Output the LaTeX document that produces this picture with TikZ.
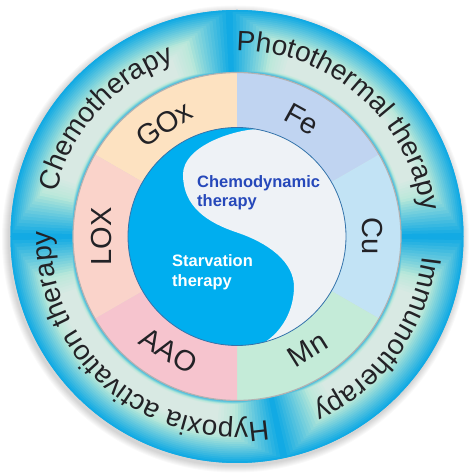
\documentclass[tikz,border=0pt]{standalone}
\usepackage{fontspec}
\setmainfont{Liberation Sans}
\usepackage{tikz}
\usetikzlibrary{decorations.text}
\definecolor{myringblue}{RGB}{18,170,228}
\definecolor{myringmint}{RGB}{180,231,216}
\definecolor{myringcore}{RGB}{230,234,232}
\definecolor{mygox}{RGB}{253,226,193}
\definecolor{myfe}{RGB}{192,212,241}
\definecolor{mycu}{RGB}{194,227,245}
\definecolor{mymn}{RGB}{196,235,216}
\definecolor{myaao}{RGB}{246,196,206}
\definecolor{mylox}{RGB}{250,211,202}
\definecolor{myyin}{RGB}{0,174,239}
\definecolor{myyang}{RGB}{238,242,246}
\definecolor{myedge}{RGB}{55,115,170}
\definecolor{mycdt}{RGB}{38,72,186}
\definecolor{myink}{RGB}{34,34,38}
\newcommand{\ringfont}{\fontsize{28}{30}\selectfont\color{myink}}
% one sector of the middle ring: from angle, to angle, colour
\newcommand{\secfill}[3]{\fill[#3] (#1:109) arc[start angle=#1,end angle=#2,radius=109]
  -- (#2:164) arc[start angle=#2,end angle=#1,radius=164] -- cycle;}
% one glowing band of the outer ring: start angle, end angle (clockwise)
\newcommand{\ringband}[2]{%
  \foreach \k in {0,...,20}{%
    \pgfmathsetmacro{\ri}{163.5+\k*0.3}%
    \pgfmathsetmacro{\ro}{226.5-\k*1.9}%
    \pgfmathsetmacro{\aa}{#1-\k*0.9}%
    \pgfmathsetmacro{\ab}{#2+\k*0.9}%
    \pgfmathsetmacro{\pa}{min(100,\k*7.5)}%
    \pgfmathsetmacro{\pb}{max(0,(\k-12)*9)}%
    \fill[myringcore!\pb!myringmint!\pa!myringblue] (\aa:\ri) arc[start angle=\aa,end angle=\ab,radius=\ri]
      -- (\ab:\ro) arc[start angle=\ab,end angle=\aa,radius=\ro] -- cycle;
  }}
\tikzset{
  seclab/.style={font=\fontsize{29}{30}\selectfont,text=myink,inner sep=0pt},
  centre/.style={font=\bfseries\fontsize{16.5}{19}\selectfont,inner sep=0pt,anchor=base west},
  ringtext/.style={decorate,decoration={text along path,text align=center,text={|\ringfont|#1}}},
}
\begin{document}
\begin{tikzpicture}[x=1pt,y=1pt]
  \useasboundingbox (-237,-236.5) rectangle (237,236.5);
  \fill[white] (-237,-236.5) rectangle (237,236.5);
  % soft shadow
  \foreach \s in {1,...,7}
    \fill[black,opacity=0.025] (-1.5,-2.5) circle[radius=226.5+\s];
  % outer ring
  \fill[myringblue,even odd rule] (0,0) circle[radius=226.5] circle[radius=163];
  \ringband{180}{92}
  \ringband{92}{0}
  \ringband{0}{-78}
  \ringband{-78}{-180}
  % middle ring
  \secfill{90}{150}{mygox}
  \secfill{30}{90}{myfe}
  \secfill{-30}{30}{mycu}
  \secfill{-90}{-30}{mymn}
  \secfill{-150}{-90}{myaao}
  \secfill{150}{210}{mylox}
  \draw[gray!60,line width=1.2] (0,0) circle[radius=164];
  % yin yang
  \fill[myyin] (0,0) circle[radius=109];
  \fill[myyang] (80:109) .. controls (-5,106) and (-54,90) .. (-54,62)
    .. controls (-54,30) and (-30,14) .. (0,4)
    .. controls (30,-6) and (58,-25) .. (57,-52)
    .. controls (56,-80) and (40,-98) .. (-75:109)
    arc[start angle=-75,end angle=80,radius=109] -- cycle;
  \draw[myedge,line width=0.8] (0,0) circle[radius=109];
  \node[centre,text=mycdt] (cdtop) at (-40,48.5) {Chemodynamic};
  \node[centre,text=mycdt] (cdbot) at (-40,29.5) {therapy};
  \node[centre,text=white] (svtop) at (-65,-30.5) {Starvation};
  \node[centre,text=white] (svbot) at (-65,-50.5) {therapy};
  % sector labels
  \node[seclab,rotate=33] (gox) at (123:134) {GOx};
  \node[seclab,rotate=-29] (fe) at (61:134) {Fe};
  \node[seclab,rotate=-90] (cu) at (0:135) {Cu};
  \node[seclab,rotate=32] (mn) at (-58:133) {Mn};
  \node[seclab,rotate=-31] (aao) at (-121:133) {AAO};
  \node[seclab,rotate=90] (lox) at (180:135) {LOX};
  % ring labels
  \path[ringtext=Chemotherapy] (198:186) arc[start angle=198,end angle=78,radius=186];
  \path[ringtext=Photothermal therapy] (109:186) arc[start angle=109,end angle=-11,radius=186];
  \path[ringtext=Immunotherapy] (24:186) arc[start angle=24,end angle=-96,radius=186];
  \path[ringtext=Hypoxia activation therapy] (-66:186) arc[start angle=-66,end angle=-196,radius=186];
\end{tikzpicture}
\end{document}
